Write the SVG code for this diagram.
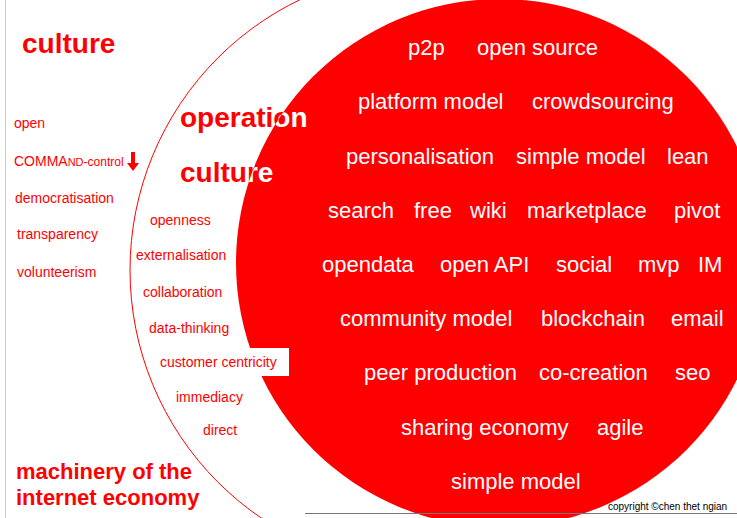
<svg xmlns="http://www.w3.org/2000/svg" width="737" height="518" viewBox="0 0 737 518">
<style>
.w{fill:#fff;font-family:"Liberation Sans",Arial,sans-serif;font-size:22px}
.r{fill:#f00;font-family:"Liberation Sans",Arial,sans-serif;font-size:14px}
.b{font-family:"Liberation Sans",Arial,sans-serif;font-weight:bold}
</style>
<defs>
<clipPath id="cc"><circle cx="500" cy="263" r="264"/></clipPath>
<clipPath id="lh"><rect x="0" y="0" width="450" height="518"/></clipPath>
</defs>
<rect width="737" height="518" fill="#fff"/>
<line x1="5.5" y1="0" x2="5.5" y2="518" stroke="#f4b8b8"/>
<g id="circles">
<circle cx="430" cy="270" r="300" fill="none" stroke="#f00" stroke-width="1" clip-path="url(#lh)"/>
<circle cx="500" cy="263" r="264" fill="#f00"/>
</g>
<line x1="305" y1="513.5" x2="737" y2="513.5" stroke="#777"/>
<g id="headings">
<text class="b" x="22" y="53" font-size="28" fill="#f00">culture</text>
<g fill="#f00" font-size="28">
<text class="b" x="180" y="127">operation</text>
<text class="b" x="180" y="182">culture</text>
</g>
<g fill="#fff" font-size="28" clip-path="url(#cc)">
<text class="b" x="180" y="127">operation</text>
<text class="b" x="180" y="182">culture</text>
</g>
<text class="b" x="16" y="479" font-size="22" fill="#f00">machinery  of the</text>
<text class="b" x="16" y="505" font-size="22" fill="#f00">internet  economy</text>
</g>
<g id="left">
<text class="r" x="14" y="128">open</text>
<text class="r" x="14" y="166" font-size="14">COMMA<tspan font-size="11">ND</tspan><tspan font-size="12">-control</tspan></text>
<path d="M131 152v11h-4l6 8 6-8h-4v-11z" fill="#f00"/>
<text class="r" x="15" y="203">democratisation</text>
<text class="r" x="17" y="239">transparency</text>
<text class="r" x="17" y="277">volunteerism</text>
</g>
<g id="middle">
<text class="r" x="150" y="225">openness</text>
<text class="r" x="136" y="260">externalisation</text>
<text class="r" x="143" y="297">collaboration</text>
<text class="r" x="149" y="333">data-thinking</text>
<rect x="153" y="348" width="136" height="28" fill="#fff"/>
<text class="r" x="160" y="367">customer centricity</text>
<text class="r" x="176" y="402">immediacy</text>
<text class="r" x="203" y="435">direct</text>
</g>
<g id="terms">
<text class="w" x="408" y="55">p2p</text>
<text class="w" x="477" y="55">open source</text>
<text class="w" x="358" y="109">platform model</text>
<text class="w" x="532" y="109">crowdsourcing</text>
<text class="w" x="346" y="164">personalisation</text>
<text class="w" x="516" y="164">simple model</text>
<text class="w" x="667" y="164">lean</text>
<text class="w" x="328" y="218">search</text>
<text class="w" x="414" y="218">free</text>
<text class="w" x="470" y="218">wiki</text>
<text class="w" x="527" y="218">marketplace</text>
<text class="w" x="674" y="218">pivot</text>
<text class="w" x="322" y="272">opendata</text>
<text class="w" x="440" y="272">open API</text>
<text class="w" x="556" y="272">social</text>
<text class="w" x="638" y="272">mvp</text>
<text class="w" x="698" y="272">IM</text>
<text class="w" x="340" y="326">community model</text>
<text class="w" x="541" y="326">blockchain</text>
<text class="w" x="671" y="326">email</text>
<text class="w" x="364" y="380">peer production</text>
<text class="w" x="539" y="380">co-creation</text>
<text class="w" x="675" y="380">seo</text>
<text class="w" x="401" y="435">sharing economy</text>
<text class="w" x="597" y="435">agile</text>
<text class="w" x="451" y="489">simple model</text>
</g>
<text x="608" y="510" font-family="Liberation Sans,Arial,sans-serif" font-size="10" fill="#000">copyright ©chen thet ngian</text>
</svg>
